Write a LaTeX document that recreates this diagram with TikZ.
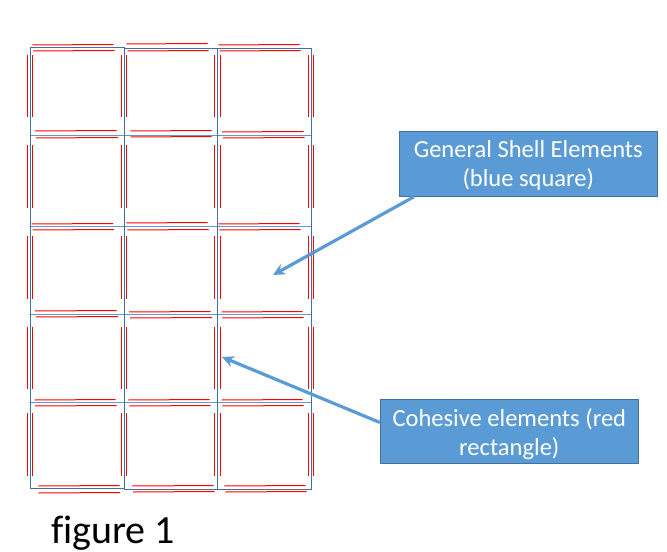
\documentclass[tikz,border=0pt]{standalone}
\usepackage{fontspec}
\setmainfont[Ligatures=NoCommon]{Carlito}
\usetikzlibrary{arrows.meta}
\definecolor{shellblue}{HTML}{5B9BD5}
\definecolor{edgeblue}{HTML}{41719C}

\begin{document}
\begin{tikzpicture}[x=0.75pt,y=-0.75pt]
\tikzstyle{every node}=[inner sep=0pt]
\tikzstyle{callout}=[draw=edgeblue,fill=shellblue,text=white,font=\fontsize{18.4}{21.8}\selectfont,align=center,minimum width=193.5pt,minimum height=48.5pt,line width=0.75pt]
\tikzstyle{pointer}=[draw=shellblue,-{Stealth[length=9pt,width=8.5pt]},line width=2.4pt]
\tikzstyle{cohesive}=[draw=red,line width=0.75pt]
\tikzstyle{outer}=[draw=edgeblue,line width=0.8pt]
\tikzstyle{inner}=[draw=shellblue,line width=0.8pt]

\useasboundingbox (0,0) rectangle (667,552);

% cohesive elements, sides
\foreach \x in {27.5,32.5,121.5,126.5,214.5,220.5,308.5,313.5}
  \foreach \ya/\yb in {55.5/117.5,145/208,236.5/299,326.5/389,413/476}
    \draw[cohesive] (\x,\ya) -- (\x,\yb);

% cohesive elements, top and bottom
\foreach \xa/\xb/\y in {
  32.3/113.7/44.5, 33.3/114.7/50.5, 126.3/207.7/43.5, 127.7/208.7/50.5, 218.3/299.7/44.5, 219.7/300.7/50.5,
  35/116.7/130.5, 36/118/137.5, 130.3/211.7/130.5, 130.7/211.7/136.5, 222/303.7/131.5, 223/304.7/137.5,
  31.7/113/223.5, 32.7/114/229.5, 126.3/207.7/222.5, 127.3/208.7/229.5, 218.3/299.7/223.5, 219.3/300.7/229.5,
  35/116.7/310.5, 36/118/316.5, 129/210.7/311.5, 130/212/317.5, 221.7/302.7/311.5, 222.3/303.7/317.5,
  34.7/115.7/399.5, 35/116.7/405.5, 128.3/209.7/399.5, 129.3/210.7/405.5, 221.7/302.7/399.5, 222.3/303.7/405.5,
  38.3/119.7/485.5, 38.3/120/492.5, 132.3/213.7/485.5, 133/214.7/491.5, 224.3/305.7/485.5, 225.3/306.7/491.5}
  \draw[cohesive] (\xa,\y+0.5) -- (\xb,\y);

% shell elements
\foreach \y in {135.5,226.5,314.5,402.5}
  \draw[inner] (30.5,\y) -- (311.5,\y);
\draw[outer] (30.5,47.5) -- (124.5,47.5) -- (124.5,48.5) -- (311.5,48.5) -- (311.5,489.5) -- (124.5,489.5) -- (124.5,488.5) -- (30.5,488.5) -- cycle;
\foreach \x in {124.5,217.5}
  \draw[outer] (\x,48) -- (\x,489);

\node[callout] (general) at (528.3,164) {\rule{0pt}{15.5pt}General Shell Elements\\(blue square)};
\node[callout] (cohesive) at (509.3,431.5) {\rule{0pt}{17pt}Cohesive elements (red\\rectangle)};
\node[font=\fontsize{30}{35}\selectfont,anchor=base west] (caption) at (51,543) {figure 1};

\coordinate (shelltip) at (273,275);
\coordinate (redtip) at (222,357);

\draw[pointer] (general.196) -- (shelltip);
\draw[pointer] (cohesive.176) -- (redtip);
\end{tikzpicture}
\end{document}
